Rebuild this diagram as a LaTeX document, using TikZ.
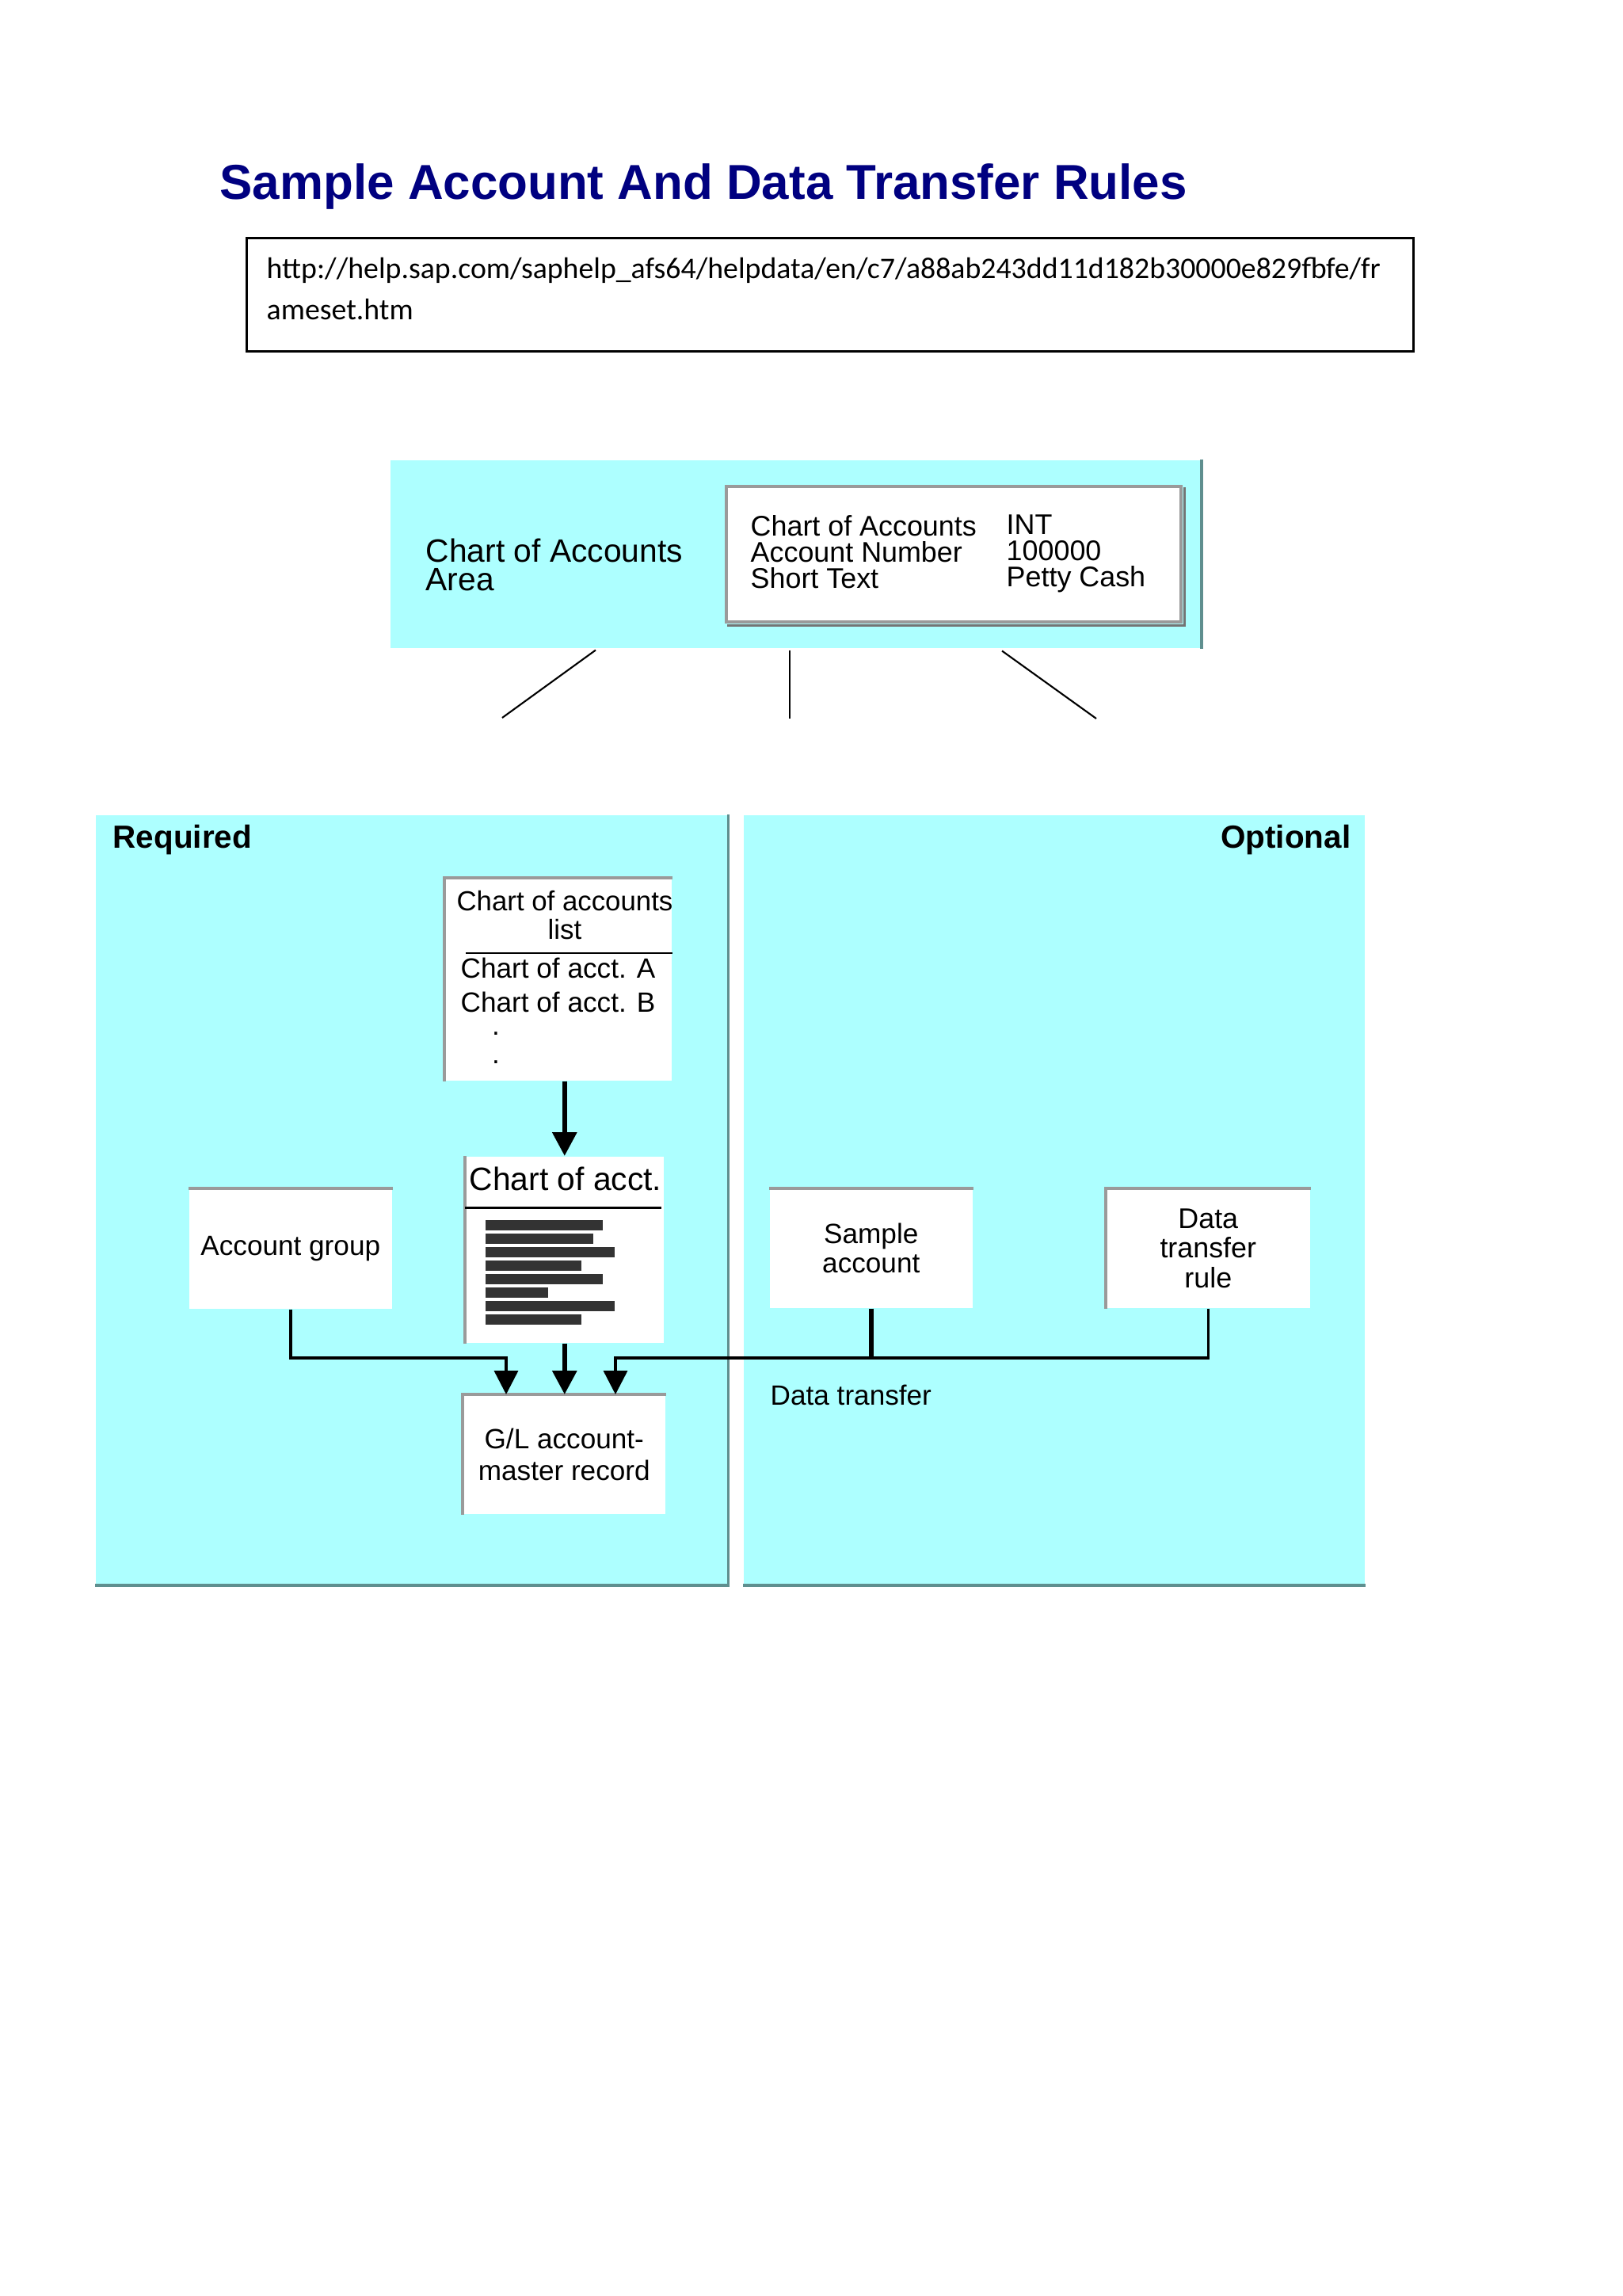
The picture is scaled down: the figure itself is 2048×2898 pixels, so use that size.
\documentclass[tikz,border=0pt]{standalone}
\usepackage{fontspec}
\setmainfont{Liberation Sans}
\newfontfamily\urlfont{Carlito}
\usetikzlibrary{arrows.meta,calc}

\definecolor{sapcyan}{HTML}{ADFFFF}
\definecolor{sapteal}{HTML}{5F8F8F}
\definecolor{sapgrey}{HTML}{9A9A9A}
\definecolor{sapnavy}{HTML}{000080}
\definecolor{bargrey}{HTML}{333333}

\tikzset{
  panel/.style={fill=sapcyan, inner sep=0, anchor=north west},
  card/.style={fill=white, inner sep=0, anchor=north west, align=center,
    font=\fontsize{10}{10.6}\selectfont},
  lbl/.style={inner sep=0, font=\fontsize{10}{10.6}\selectfont},
  conn/.style={line width=1pt},
  heavy/.style={line width=1.8pt},
  tip/.style={-{Triangle[width=8.5pt,length=8.5pt]}},
  rim/.style={draw=sapteal, line width=0.9pt},
  edge/.style={draw=sapgrey, line width=0.9pt},
}

\begin{document}
\begin{tikzpicture}[x=0.01cm, y=-0.01cm]
  \useasboundingbox[fill=white] (0,0) rectangle (2048,2898);

  % heading and source link
  \node[inner sep=0, anchor=base west, text=sapnavy,
        font=\fontsize{17.6}{20}\selectfont\bfseries] (title) at (277,252)
        {Sample Account And Data Transfer Rules};
  \node[draw, line width=0.8pt, inner sep=0, anchor=north west,
        minimum width=14.72cm, minimum height=1.43cm] (urlbox) at (310,299) {};
  \node[inner sep=0, anchor=west, align=left,
        font=\urlfont\fontsize{10.75}{14.8}\selectfont] (url) at (336,364)
        {http://help.sap.com/saphelp\_afs64/helpdata/en/c7/a88ab243dd11d182b30000e829fbfe/fr\\ameset.htm};

  % chart of accounts area
  \node[panel, minimum width=10.23cm, minimum height=2.37cm] (area) at (492,580) {};
  \draw[rim] (area.north east) -- (area.south east);
  \node[lbl, anchor=west, align=left, font=\fontsize{11.6}{10}\selectfont] (arealbl)
        at (537,713) {Chart of Accounts\\Area};
  \node[fill=white, draw=sapgrey, line width=1pt, inner sep=0, anchor=north west,
        minimum width=5.74cm, minimum height=1.71cm] (info) at (915,612) {};
  \draw[sapgrey!75!black, line width=0.8pt] ($(info.south west)+(3,3)$)
        -- ($(info.south east)+(3,3)$) -- ($(info.north east)+(3,3)$);
  \node[lbl, anchor=west, align=left, font=\fontsize{10.2}{9.4}\selectfont] (infokeys)
        at (947,697) {Chart of Accounts\\Account Number\\Short Text};
  \node[lbl, anchor=west, align=left, font=\fontsize{10.2}{9.4}\selectfont] (infovals)
        at (1270,699) {INT\\100000\\Petty Cash};

  \coordinate (fanL) at (634,906);
  \coordinate (fanM) at (997,907);
  \coordinate (fanR) at (1384,907);
  \draw[line width=0.6pt] ($(area.south west)+(260,2)$) -- (fanL);
  \draw[line width=0.6pt] ($(area.south west)+(505,2)$) -- (fanM);
  \draw[line width=0.6pt] ($(area.south west)+(773,3)$) -- (fanR);

  % required / optional panels
  \node[panel, minimum width=7.98cm, minimum height=9.71cm] (req) at (120,1028) {};
  \draw[rim] (req.north east) -- (req.south east) -- (req.south west);
  \node[panel, minimum width=7.84cm, minimum height=9.71cm] (opt) at (938,1028) {};
  \draw[rim] (opt.south west) -- (opt.south east);
  \node[lbl, anchor=west, font=\fontsize{11.5}{12}\selectfont\bfseries] (reqlbl)
        at (142,1060) {Required};
  \node[lbl, anchor=east, font=\fontsize{11.5}{12}\selectfont\bfseries] (optlbl)
        at (1706,1060) {Optional};

  % chart of accounts list
  \node[card, minimum width=2.86cm, minimum height=2.55cm] (coalist) at (561,1108) {};
  \draw[edge] (coalist.south west) -- (coalist.north west) -- (coalist.north east);
  \node[lbl, align=center, font=\fontsize{9.9}{10.2}\selectfont] (coalisthead)
        at (713,1155) {Chart of accounts\\list};
  \draw[line width=0.85pt] ($(coalist.north west)+(27,95)$) -- ($(coalist.north east)+(0,95)$);
  \node[lbl, anchor=west] (coaA) at (581,1222) {Chart of acct. A};
  \node[lbl, anchor=west] (coaB) at (581,1265) {Chart of acct. B};
  \node[lbl] (dotA) at (626,1305) {.};
  \node[lbl] (dotB) at (626,1341) {.};

  % chart of accounts
  \node[card, minimum width=2.50cm, minimum height=2.35cm] (coa) at (587,1459) {};
  \draw[edge] (coa.south west) -- (coa.north west);
  \node[lbl, anchor=west, font=\fontsize{11.6}{12}\selectfont] (coahead)
        at (592,1488) {Chart of acct.};
  \draw[line width=0.85pt] ($(coa.north west)+(0,65)$) -- ($(coa.north east)+(-4,65)$);
  \foreach \w [count=\i from 0] in {148,136,163,121,148,79,163,121}
    \fill[bargrey] (613,1540+17*\i) rectangle ++(\w,12.6);

  \draw[heavy, tip] (coalist.south -| coa.north) -- (coa.north);

  % other objects
  \node[card, minimum width=2.56cm, minimum height=1.51cm] (accgrp) at (238,1500) {Account group};
  \draw[edge] (accgrp.north west) -- (accgrp.north east);
  \node[card, minimum width=2.56cm, minimum height=1.50cm] (sample) at (971,1500) {Sample\\account};
  \draw[edge] (sample.north west) -- (sample.north east);
  \node[card, minimum width=2.57cm, minimum height=1.50cm, font=\fontsize{10.2}{10.7}\selectfont]
        (dtrule) at (1396,1500) {Data\\transfer\\rule};
  \draw[edge] (dtrule.south west) -- (dtrule.north west) -- (dtrule.north east);
  \node[card, minimum width=2.55cm, minimum height=1.50cm, font=\fontsize{10}{11.4}\selectfont]
        (gl) at (584,1760) {G/L account-\\master record};
  \draw[edge] (gl.south west) -- (gl.north west) -- (gl.north east);

  % connectors
  \coordinate (busL) at (639,1714);
  \coordinate (busR) at (777,1714);
  \draw[conn, tip] (accgrp.south) |- (busL) -- (busL |- gl.north);
  \draw[heavy, tip] (coa.south) -- (coa.south |- gl.north);
  \draw[conn, tip] (dtrule.south) |- (busR) -- (busR |- gl.north);
  \draw[heavy] (sample.south) -- (sample.south |- busR);
  \node[lbl, anchor=west] (xferlbl) at (972,1761) {Data transfer};
\end{tikzpicture}
\end{document}
